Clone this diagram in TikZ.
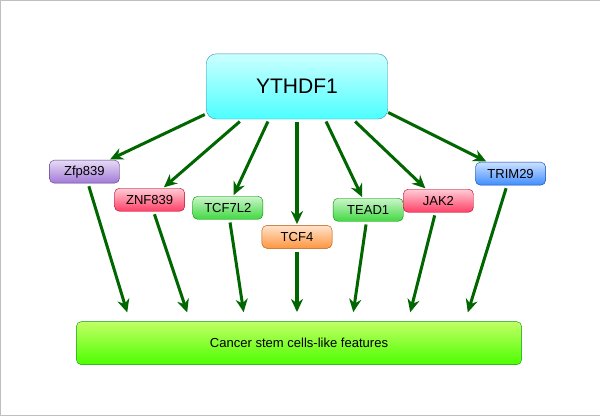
\documentclass[tikz,border=0pt]{standalone}
\usepackage{fontspec}
\setmainfont{Liberation Sans}
\usetikzlibrary{arrows.meta}
\colorlet{cviolet}{blue!40!violet!70!white}
\colorlet{cred}{red!80!magenta}
\colorlet{cgreen}{green!80!black}
\colorlet{corange}{orange!90!red}
\colorlet{cblue}{blue!60!cyan}
\begin{document}
\begin{tikzpicture}[x=1pt,y=-1pt,
  gene/.style={draw=#1!70!black,rounded corners=5pt,minimum height=23pt,
    minimum width=70pt,font=\fontsize{13}{15}\selectfont,
    top color=#1!20,bottom color=#1!75},
  arr/.style={-{Stealth[length=13pt,width=12pt]},line width=3pt,draw=green!40!black,shorten >=1pt}]
    % Frame
    \draw[gray!50,fill=white] (1,1) rectangle (599,415);
    % Top and bottom boxes
    \node[draw=cyan!70!black,rounded corners=10pt,minimum width=181pt,minimum height=65pt,
      top color=cyan!20,bottom color=cyan!70,font=\fontsize{21}{24}\selectfont] (ythdf) at (297,87) {YTHDF1};
    \node[draw=green!60!black,rounded corners=5pt,minimum width=444pt,minimum height=43pt,
      top color=green!40!yellow!60,bottom color=green!70!yellow,font=\fontsize{13}{15}\selectfont] (csc) at (299,343) {Cancer stem cells-like features};
    % Genes
    \node[gene=cviolet] (zfp) at (85,172) {Zfp839};
    \node[gene=cred] (znf) at (150,200) {ZNF839};
    \node[gene=cgreen] (tcfsl) at (228,208) {TCF7L2};
    \node[gene=corange] (tcff) at (297,237) {TCF4};
    \node[gene=cgreen] (tead) at (368,210) {TEAD1};
    \node[gene=cred] (jak) at (438,201) {JAK2};
    \node[gene=cblue] (trim) at (510,174) {TRIM29};
    % Arrows
    \coordinate (t1) at (205,115); \coordinate (t2) at (240,122);
    \coordinate (t3) at (268,122); \coordinate (t4) at (297,122);
    \coordinate (t5) at (326,122); \coordinate (t6) at (355,122);
    \coordinate (t7) at (388,113);
    \coordinate (b1) at (130,320); \coordinate (b2) at (190,320);
    \coordinate (b3) at (245,320); \coordinate (b4) at (297,320);
    \coordinate (b5) at (352,320); \coordinate (b6) at (408,320);
    \coordinate (b7) at (465,320);
    \foreach \g [count=\i] in {zfp,znf,tcfsl,tcff,tead,jak,trim}{
      \draw[arr] (t\i) -- (\g);
      \draw[arr,shorten <=3pt,shorten >=8pt] (\g) -- (b\i);
    }
\end{tikzpicture}
\end{document}
